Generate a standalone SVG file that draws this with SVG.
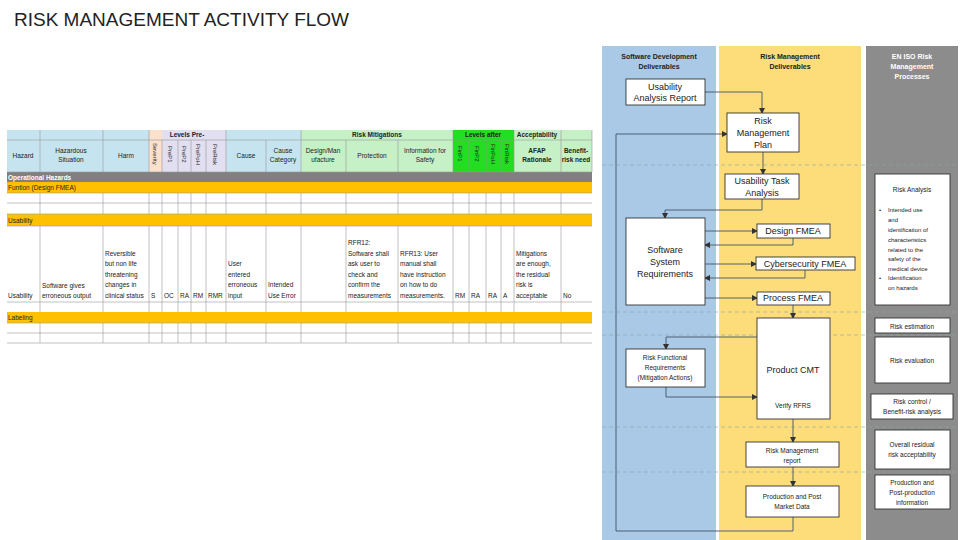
<svg xmlns="http://www.w3.org/2000/svg" width="960" height="540" viewBox="0 0 960 540">
<defs>
<marker id="ah" markerWidth="6" markerHeight="6" refX="5" refY="3" orient="auto" markerUnits="userSpaceOnUse"><path d="M0,0L6,3L0,6z" fill="#333"/></marker>
<style>
text{font-family:"Liberation Sans",Arial,sans-serif;fill:#222}
.t{font-size:6.5px}.tc{font-size:6.5px;text-anchor:middle}
.hb{font-size:6.5px;text-anchor:middle;font-weight:bold}
.g{stroke:#999;stroke-width:0.6;fill:none}
.box{fill:#fff;stroke:#333;stroke-width:0.9}
.bt{font-size:9px;text-anchor:middle}
.st{font-size:6.5px;text-anchor:middle}
.ln{fill:none;stroke:#44546a;stroke-width:0.9}
.dash{stroke:#8aa;stroke-width:0.6;stroke-dasharray:4 3}
</style>
</defs>
<rect width="960" height="540" fill="#fff"/>
<text x="14" y="26" font-size="19" style="font-size:19px">RISK MANAGEMENT ACTIVITY FLOW</text>

<!-- table -->
<g id="table">
<rect x="7" y="130" width="142" height="42" fill="#c6e4ef"/>
<rect x="226" y="130" width="75" height="42" fill="#c6e4ef"/>
<rect x="149" y="130" width="13" height="42" fill="#fbe0cc"/>
<rect x="162" y="130" width="64" height="42" fill="#e2dff0"/>
<rect x="301" y="130" width="152" height="42" fill="#c6f0c6"/>
<rect x="453" y="130" width="61" height="42" fill="#22dd22"/>
<rect x="514" y="130" width="78" height="42" fill="#c6f0c6"/>
<rect x="7" y="172" width="585" height="10" fill="#808080"/>
<rect x="7" y="182" width="585" height="11" fill="#ffc000"/>
<rect x="7" y="214" width="585" height="12" fill="#ffc000"/>
<rect x="7" y="312" width="585" height="11" fill="#ffc000"/>
<path class="g" d="M7,140H592M7,172H592M7,203H592M7,302H592M7,333H592M7,343H592M7,193H592M7,214H592M7,226H592M7,323H592"/>
<path class="g" d="M40,130V172M103,130V172M149,130V172M162,140V172M178,140V172M191,140V172M206,140V172M226,130V172M266,140V172M301,130V172M346,140V172M398,140V172M453,130V172M469,140V172M486,140V172M501,140V172M514,130V172M561,130V172M592,130V172"/>
<path class="g" d="M40,193V214M103,193V214M149,193V214M162,193V214M178,193V214M191,193V214M206,193V214M226,193V214M266,193V214M301,193V214M346,193V214M398,193V214M453,193V214M469,193V214M486,193V214M501,193V214M514,193V214M561,193V214"/>
<path class="g" d="M40,226V312M103,226V312M149,226V312M162,226V312M178,226V312M191,226V312M206,226V312M226,226V312M266,226V312M301,226V312M346,226V312M398,226V312M453,226V312M469,226V312M486,226V312M501,226V312M514,226V312M561,226V312"/>
<path class="g" d="M40,323V343M103,323V343M149,323V343M162,323V343M178,323V343M191,323V343M206,323V343M226,323V343M266,323V343M301,323V343M346,323V343M398,323V343M453,323V343M469,323V343M486,323V343M501,323V343M514,323V343M561,323V343"/>
<text class="hb" x="187" y="137">Levels Pre-</text>
<text class="hb" x="377" y="137">Risk Mitigations</text>
<text class="hb" x="483" y="137">Levels after</text>
<text class="hb" x="537" y="137">Acceptability</text>
<text class="tc" x="23" y="158">Hazard</text>
<text class="tc" x="71" y="153">Hazardous</text><text class="tc" x="71" y="162">Situation</text>
<text class="tc" x="126" y="158">Harm</text>
<text class="tc" x="246" y="158">Cause</text>
<text class="tc" x="283" y="153">Cause</text><text class="tc" x="283" y="162">Category</text>
<text class="tc" x="323" y="153">Design/Man</text><text class="tc" x="323" y="162">ufacture</text>
<text class="tc" x="372" y="158">Protection</text>
<text class="tc" x="425" y="153">Information for</text><text class="tc" x="425" y="162">Safety</text>
<text class="hb" x="537" y="153">AFAP</text><text class="hb" x="537" y="162">Rationale</text>
<text class="hb" x="576" y="153">Benefit-</text><text class="hb" x="576" y="162">risk need</text>
<g class="t">
<text transform="translate(153,143) rotate(90)" font-size="6">Severity</text>
<text transform="translate(168,146) rotate(90)" font-size="6">PreP1</text>
<text transform="translate(182,146) rotate(90)" font-size="6">PreP2</text>
<text transform="translate(196,144) rotate(90)" font-size="6">PrePoH</text>
<text transform="translate(213,144) rotate(90)" font-size="6">PreRisk</text>
<text transform="translate(458,146) rotate(90)" font-size="6">FinP1</text>
<text transform="translate(475,146) rotate(90)" font-size="6">FinP2</text>
<text transform="translate(491,144) rotate(90)" font-size="6">FinPoH</text>
<text transform="translate(505,144) rotate(90)" font-size="6">FinRisk</text>
</g>
<text x="8" y="180" font-size="6.5" font-weight="bold" fill="#fff" style="fill:#fff">Operational Hazards</text>
<text x="8" y="190" class="t">Funtion (Design FMEA)</text>
<text x="8" y="223" class="t">Usability</text>
<text x="8" y="320" class="t">Labeling</text>
<g class="t">
<text x="8" y="298">Usability</text>
<text x="42" y="288">Software gives</text><text x="42" y="298">erroneous output</text>
<text x="105" y="256">Reversible</text><text x="105" y="266">but non life</text><text x="105" y="277">threatening</text><text x="105" y="287">changes in</text><text x="105" y="298">clinical status</text>
<text x="151" y="298">S</text><text x="164" y="298">OC</text><text x="180" y="298">RA</text><text x="193" y="298">RM</text><text x="208" y="298">RMR</text>
<text x="228" y="266">User</text><text x="228" y="277">entered</text><text x="228" y="287">erroneous</text><text x="228" y="298">input</text>
<text x="268" y="287">Intended</text><text x="268" y="298">Use Error</text>
<text x="348" y="245">RFR12:</text><text x="348" y="256">Software shall</text><text x="348" y="266">ask user to</text><text x="348" y="277">check and</text><text x="348" y="287">confirm the</text><text x="348" y="298">measurements</text>
<text x="400" y="256">RFR13: User</text><text x="400" y="266">manual shall</text><text x="400" y="277">have instruction</text><text x="400" y="287">on how to do</text><text x="400" y="298">measurements.</text>
<text x="455" y="298">RM</text><text x="471" y="298">RA</text><text x="488" y="298">RA</text><text x="503" y="298">A</text>
<text x="516" y="256">Mitigations</text><text x="516" y="266">are enough,</text><text x="516" y="277">the residual</text><text x="516" y="287">risk is</text><text x="516" y="298">acceptable</text>
<text x="563" y="298">No</text>
</g>
</g>

<!-- lanes -->
<g id="lanes">
<rect x="602" y="46" width="114" height="494" fill="#a9c9e6"/>
<rect x="719" y="46" width="142" height="494" fill="#fddc7a"/>
<rect x="866" y="46" width="92" height="494" fill="#8c8c8c"/>
<text class="hb" x="659" y="59" style="font-size:7px">Software Development</text>
<text class="hb" x="659" y="69" style="font-size:7px">Deliverables</text>
<text class="hb" x="790" y="59" style="font-size:7px">Risk Management</text>
<text class="hb" x="790" y="69" style="font-size:7px">Deliverables</text>
<text class="hb" x="912" y="59" style="font-size:7px;fill:#fff">EN ISO Risk</text>
<text class="hb" x="912" y="69" style="font-size:7px;fill:#fff">Management</text>
<text class="hb" x="912" y="79" style="font-size:7px;fill:#fff">Processes</text>
<path class="dash" d="M602,165H958M602,312H958M602,335H958M602,427H958M602,472H958"/>
</g>

<g id="connectors">
<path class="ln" marker-end="url(#ah)" d="M705,92H762V113"/>
<path class="ln" marker-end="url(#ah)" d="M793,517V531H616V134H727"/>
<path class="ln" marker-end="url(#ah)" d="M763,152V174"/>
<path class="ln" marker-end="url(#ah)" d="M762,199V210H665V218"/>
<path class="ln" marker-end="url(#ah)" d="M705,231H757"/>
<path class="ln" marker-end="url(#ah)" d="M793,238V245H705"/>
<path class="ln" marker-end="url(#ah)" d="M705,264H756"/>
<path class="ln" marker-end="url(#ah)" d="M805,270V278H705"/>
<path class="ln" marker-end="url(#ah)" d="M705,298H757"/>
<path class="ln" marker-end="url(#ah)" d="M793,305V318"/>
<path class="ln" marker-end="url(#ah)" d="M757,337H666V349"/>
<path class="ln" marker-end="url(#ah)" d="M666,387V397H757"/>
<path class="ln" marker-end="url(#ah)" d="M793,419V442"/>
<path class="ln" marker-end="url(#ah)" d="M793,467V486"/>
</g>

<g id="uar"><rect class="box" x="626" y="79" width="79" height="26"/><text class="bt" x="665" y="90">Usability</text><text class="bt" x="665" y="101">Analysis Report</text></g>
<g id="rmp"><rect class="box" x="727" y="113" width="72" height="39"/><text class="bt" x="763" y="124">Risk</text><text class="bt" x="763" y="136">Management</text><text class="bt" x="763" y="148">Plan</text></g>
<g id="uta"><rect class="box" x="725" y="174" width="74" height="25"/><text class="bt" x="762" y="184">Usability Task</text><text class="bt" x="762" y="196">Analysis</text></g>
<g id="ssr"><rect class="box" x="626" y="218" width="79" height="87"/><text class="bt" x="665" y="253">Software</text><text class="bt" x="665" y="265">System</text><text class="bt" x="665" y="277">Requirements</text></g>
<g id="dfmea"><rect class="box" x="757" y="224" width="73" height="14"/><text class="bt" x="793" y="234">Design FMEA</text></g>
<g id="cfmea"><rect class="box" x="756" y="257" width="99" height="13"/><text class="bt" x="805" y="267">Cybersecurity FMEA</text></g>
<g id="pfmea"><rect class="box" x="757" y="292" width="73" height="13"/><text class="bt" x="793" y="301">Process FMEA</text></g>
<g id="cmt"><rect class="box" x="757" y="318" width="73" height="101"/><text class="bt" x="793" y="373">Product CMT</text><text class="st" x="793" y="408">Verify RFRS</text></g>
<g id="rfr"><rect class="box" x="626" y="349" width="79" height="38"/><text class="st" x="665" y="360">Risk Functional</text><text class="st" x="665" y="370">Requirements</text><text class="st" x="665" y="380">(Mitigation Actions)</text></g>
<g id="rmr"><rect class="box" x="746" y="442" width="93" height="25"/><text class="st" x="792" y="453">Risk Management</text><text class="st" x="792" y="463">report</text></g>
<g id="ppmd"><rect class="box" x="746" y="486" width="93" height="31"/><text class="st" x="792" y="499">Production and Post</text><text class="st" x="792" y="509">Market Data</text></g>

<g id="ra"><rect class="box" x="875" y="174" width="75" height="131"/><text class="st" x="912" y="192">Risk Analysis</text>
<g class="t" style="font-size:6px"><text x="879" y="212">•</text><text x="888" y="212">Intended use</text><text x="888" y="222">and</text><text x="888" y="232">identification of</text><text x="888" y="242">characteristics</text><text x="888" y="252">related to the</text><text x="888" y="261">safety of the</text><text x="888" y="271">medical device</text><text x="879" y="280">•</text><text x="888" y="280">Identification</text><text x="888" y="290">on hazards</text></g></g>
<g id="re"><rect class="box" x="875" y="318" width="75" height="15"/><text class="st" x="912" y="329">Risk estimation</text></g>
<g id="rev"><rect class="box" x="875" y="337" width="75" height="46"/><text class="st" x="912" y="363">Risk evaluation</text></g>
<g id="rc"><rect class="box" x="871" y="394" width="82" height="25"/><text class="st" x="912" y="404">Risk control /</text><text class="st" x="912" y="414">Benefit-risk analysis</text></g>
<g id="orr"><rect class="box" x="875" y="430" width="75" height="39"/><text class="st" x="912" y="447">Overall residual</text><text class="st" x="912" y="457">risk acceptability</text></g>
<g id="ppi"><rect class="box" x="875" y="475" width="75" height="34"/><text class="st" x="912" y="485">Production and</text><text class="st" x="912" y="495">Post-production</text><text class="st" x="912" y="505">information</text></g>
</svg>
